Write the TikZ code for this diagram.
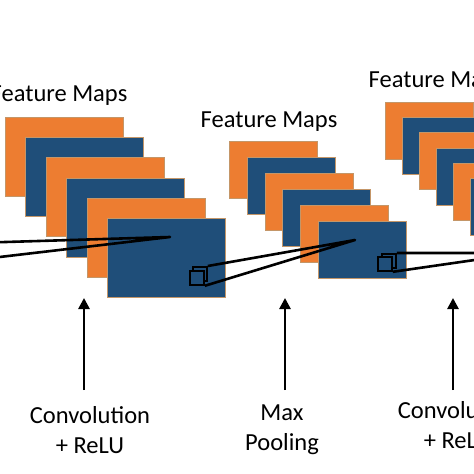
\documentclass[tikz,border=0pt]{standalone}
\usepackage{fontspec}
\setmainfont{Carlito}
\usetikzlibrary{arrows.meta}
\definecolor{mapOrange}{RGB}{237,125,49}
\definecolor{mapBlue}{RGB}{31,78,121}
\definecolor{mapEdge}{RGB}{196,150,104}
\tikzset{
  fmap/.style={draw=mapEdge, line width=0.9pt, anchor=north west, inner sep=0pt},
  kern/.style={draw=black, line width=1.8pt, anchor=north west, inner sep=0pt, minimum size=14pt},
  link/.style={line width=2.6pt, line join=round},
  arr/.style={-{Triangle[length=11pt,width=11pt]}, line width=2.6pt},
  lbl/.style={font=\fontsize{24.5}{30}\selectfont, align=center},
}
\begin{document}
\begin{tikzpicture}[x=1pt,y=-1pt]
\useasboundingbox (0,0) rectangle (474,474);
\clip (0,0) rectangle (474,474);
% three stacks of feature maps
\foreach \i/\col in {0/mapOrange,1/mapBlue,2/mapOrange,3/mapBlue,4/mapOrange,5/mapBlue}{
  \node[fmap, fill=\col, minimum width=118pt, minimum height=79pt] (A\i) at (5+20.4*\i, 117+20.2*\i) {};
  \node[fmap, fill=\col, minimum width=88pt, minimum height=57pt] (B\i) at (229+17.8*\i, 141+16*\i) {};
  \node[fmap, fill=\col, minimum width=88pt, minimum height=57pt] (C\i) at (385+17*\i, 102+15.2*\i) {};
}
% receptive fields
\node[kern] (k1b) at (192,266) {};
\node[kern, fill=mapBlue] (k1) at (189,270) {};
\node[kern] (k2b) at (381,253) {};
\node[kern, fill=mapBlue] (k2) at (377,256) {};
\coordinate (k0a) at (-60,244);
\coordinate (k0b) at (-60,264);
\coordinate (f1) at (170,237);
\coordinate (f2) at (355,240);
\coordinate (f3) at (523,253);
\draw[link] (k0a) -- (f1) -- (k0b);
\draw[link] (k1b.north east) -- (f2) -- (k1.south east);
\draw[link] (k2b.north east) -- (f3) -- (k2.south east);
% operations
\coordinate (u1) at (84,298);  \coordinate (d1) at (84,390);
\coordinate (u2) at (285,298); \coordinate (d2) at (285,390);
\coordinate (u3) at (453,298); \coordinate (d3) at (453,390);
\draw[arr] (d1) -- (u1);
\draw[arr] (d2) -- (u2);
\draw[arr] (d3) -- (u3);
\node[lbl] (c1) at (90,430) {Convolution\\+ ReLU};
\node[lbl] (p2) at (282,430) {Max\\Pooling};
\node[lbl] (c3) at (458,425) {Convolution\\+ ReLU};
\node[lbl, anchor=base] (m1) at (59,101) {Feature Maps};
\node[lbl, anchor=base] (m2) at (269,127) {Feature Maps};
\node[lbl, anchor=base] (m3) at (437,87) {Feature Maps};
\end{tikzpicture}
\end{document}
